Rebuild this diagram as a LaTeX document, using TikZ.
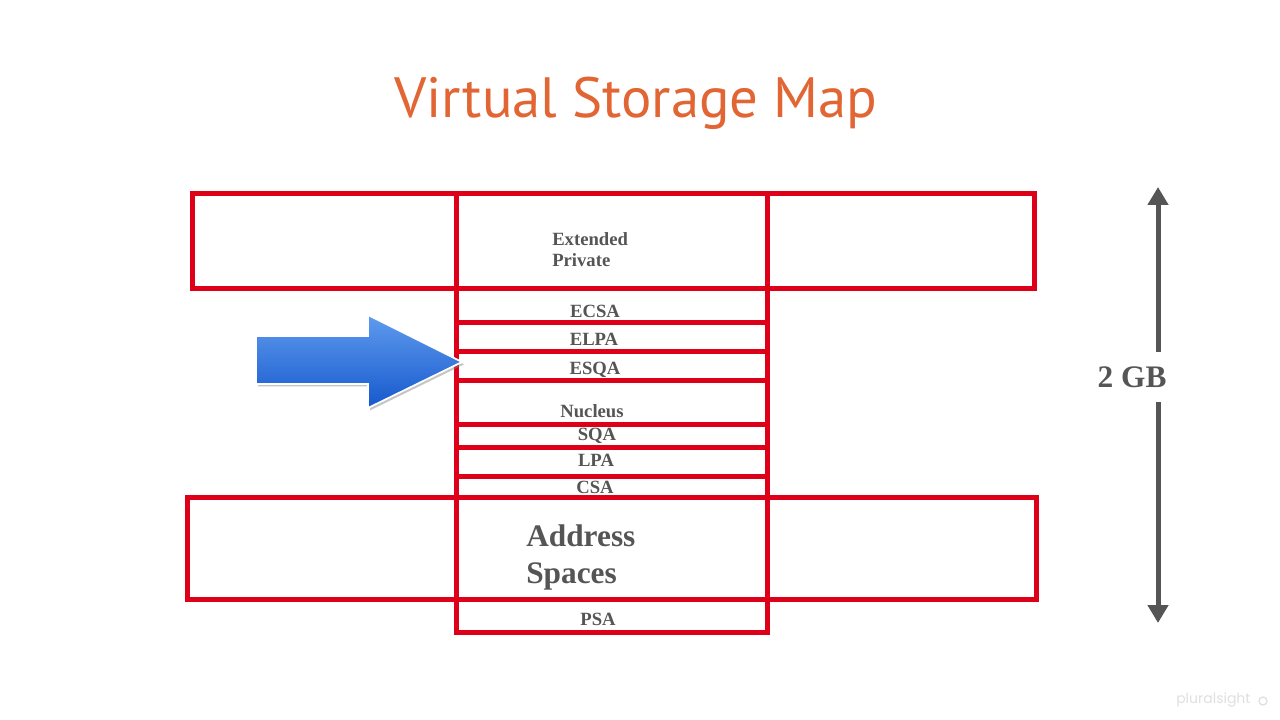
\documentclass[tikz,border=0pt]{standalone}
\usepackage{fontspec}
\setmainfont{Liberation Serif}
\newfontfamily\titlefont{PT Sans}
\newfontfamily\wmfont{Poppins}
\usetikzlibrary{arrows.meta,shadows}
\definecolor{mapred}{RGB}{222,0,24}
\definecolor{labelgray}{RGB}{85,85,85}
\definecolor{titleorange}{RGB}{226,102,52}
\definecolor{arrowgray}{RGB}{85,85,85}
\definecolor{bluetop}{RGB}{95,155,238}
\definecolor{bluebot}{RGB}{22,88,205}
\begin{document}
\begin{tikzpicture}[x=0.75pt,y=-0.75pt,
  redline/.style={draw=mapred,line width=3.75pt,line join=miter},
  lbl/.style={text=labelgray,font=\fontsize{14}{16}\selectfont\bfseries,inner sep=0pt,anchor=base},
  biglbl/.style={text=labelgray,font=\fontsize{23.5}{27}\selectfont\bfseries,inner sep=0pt,anchor=base west},
  gbarrow/.style={draw=arrowgray,line width=3.75pt,-{Triangle[width=15pt,length=13.5pt]}}]
\useasboundingbox[fill=white] (0,0) rectangle (1280,720);
% title
\node[text=titleorange,font=\titlefont\fontsize{42.6}{48}\selectfont,inner sep=0pt,anchor=base] (title) at (636,118) {Virtual Storage Map};
% red structure
\coordinate (tl) at (192,194); \coordinate (tr) at (1034,288);
\coordinate (bl) at (187,497); \coordinate (br) at (1036,599);
\coordinate (cl) at (456,194); \coordinate (cr) at (767,632);
\draw[redline] (tl) rectangle (tr);
\draw[redline] (bl) rectangle (br);
\draw[redline] (cl) rectangle (cr);
\foreach \yy in {322,351,380,424,447,476}{
  \draw[redline] (456,\yy) -- (767,\yy);
}
% labels
\node[lbl,anchor=base west] (ext1) at (552,245) {Extended};
\node[lbl,anchor=base west] (ext2) at (552,267) {Private};
\node[lbl] (ecsa) at (595,317) {ECSA};
\node[lbl] (elpa) at (594,345) {ELPA};
\node[lbl] (esqa) at (595,374) {ESQA};
\node[lbl] (nuc) at (592,417) {Nucleus};
\node[lbl] (sqa) at (597,440) {SQA};
\node[lbl] (lpa) at (596,466) {LPA};
\node[lbl] (csa) at (595,493) {CSA};
\node[lbl] (psa) at (598,625) {PSA};
\node[biglbl] (addr1) at (526,546) {Address};
\node[biglbl] (addr2) at (526,583) {Spaces};
% 2 GB dimension
\node[biglbl,anchor=base] (gb) at (1132,387) {2 GB};
\coordinate (gbupS) at (1158,352); \coordinate (gbupE) at (1158,187);
\coordinate (gbdnS) at (1158,402); \coordinate (gbdnE) at (1158,623);
\draw[gbarrow] (gbupS) -- (gbupE);
\draw[gbarrow] (gbdnS) -- (gbdnE);
% blue arrow
\coordinate (tip) at (462,362);
\shade[top color=bluetop,bottom color=bluebot,draw=white,line width=1.3pt,line join=miter,
  drop shadow={shadow xshift=1.5pt,shadow yshift=-1.8pt,opacity=0.45}]
  (256,336) -- (368,336) -- (368,315) -- (tip) -- (368,408) -- (368,384) -- (256,384) -- cycle;
% watermark
\node[text=black!12,font=\wmfont\fontsize{10.5}{12}\selectfont,inner sep=0pt,anchor=base west] (wm) at (1176,703) {pluralsight};
\draw[black!12,line width=1pt] (1263,701) circle (4);
\end{tikzpicture}
\end{document}
